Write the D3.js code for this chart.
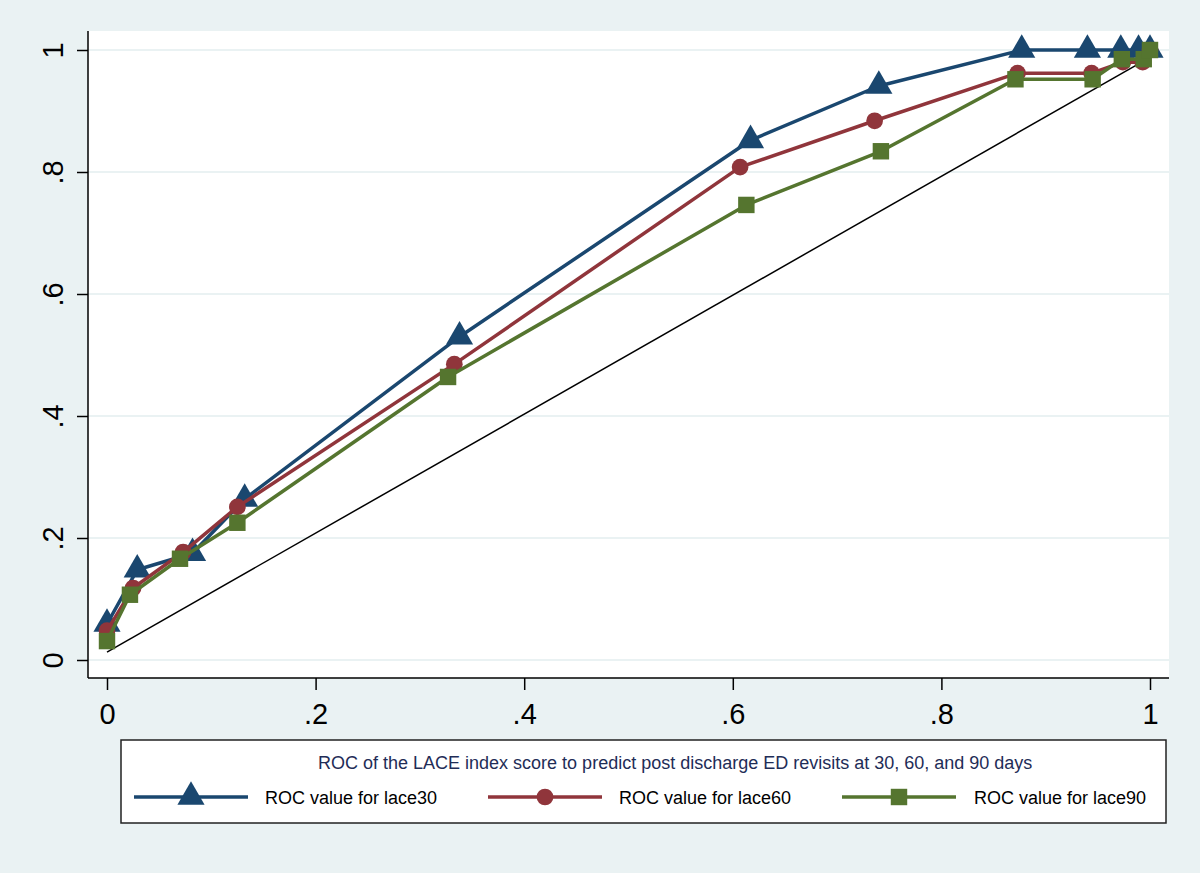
<!DOCTYPE html>
<html>
<head>
<meta charset="utf-8">
<script src="https://cdn.jsdelivr.net/npm/d3@7.9.0/dist/d3.min.js"></script>
<style>
  html, body { margin: 0; padding: 0; background: #eaf2f3; }
  svg { display: block; font-family: "Liberation Sans", Arial, sans-serif; }
</style>
</head>
<body>
<div id="chart"></div>
<script>
// ROC points
const fpr30 = [0, 0.029, 0.082, 0.132, 0.338, 0.617, 0.740, 0.877, 0.940, 0.972, 0.989, 1.0];
const tpr30 = [0.059, 0.148, 0.175, 0.264, 0.530, 0.852, 0.941, 1, 1, 1, 1, 1];

const fpr60 = [0, 0.025, 0.073, 0.125, 0.333, 0.607, 0.736, 0.873, 0.944, 0.974, 0.993, 1];
const tpr60 = [0.048, 0.118, 0.177, 0.251, 0.485, 0.808, 0.884, 0.962, 0.962, 0.980, 0.980, 1];

const fpr90 = [0, 0.022, 0.070, 0.125, 0.327, 0.613, 0.742, 0.871, 0.945, 0.973, 0.994, 1];
const tpr90 = [0.031, 0.107, 0.166, 0.225, 0.464, 0.746, 0.834, 0.952, 0.952, 0.985, 0.985, 1];

// reference line
const refX = [0, 1];
const refY = [0.013, 0.988];

const xTicks = [0, 0.2, 0.4, 0.6, 0.8, 1];
const yTicks = [0, 0.2, 0.4, 0.6, 0.8, 1];

const legendTitle = 'ROC of the LACE index score to predict post discharge ED revisits at 30, 60, and 90 days';
const seriesNames = ['ROC value for lace30', 'ROC value for lace60', 'ROC value for lace90'];

const width = 1200;
const height = 873;

const plot = { left: 88, top: 31, right: 1169, bottom: 678 };

const svg = d3.select('#chart')
    .append('svg')
    .attr('width', width)
    .attr('height', height);

svg.append('rect')
    .attr('width', width)
    .attr('height', height)
    .attr('fill', '#eaf2f3');

svg.append('rect')
    .attr('x', plot.left)
    .attr('y', plot.top)
    .attr('width', plot.right - plot.left)
    .attr('height', plot.bottom - plot.top)
    .attr('fill', '#ffffff');

const xScale = d3.scaleLinear().domain([0, 1]).range([107, 1150]);
const yScale = d3.scaleLinear().domain([0, 1]).range([660, 50]);

const fmt = v => (v === 0 ? '0' : v === 1 ? '1' : String(v).replace('0.', '.'));

// gridlines
svg.append('g')
    .attr('class', 'gridlines')
    .selectAll('line')
    .data(yTicks)
    .enter()
    .append('line')
    .attr('x1', plot.left)
    .attr('x2', plot.right)
    .attr('y1', d => yScale(d))
    .attr('y2', d => yScale(d))
    .attr('stroke', '#eaf2f3')
    .attr('stroke-width', 2);

// axes
const xAxis = svg.append('g')
    .attr('class', 'x-axis')
    .attr('transform', `translate(0, ${plot.bottom})`)
    .call(d3.axisBottom(xScale).tickValues(xTicks).tickFormat(fmt).tickSize(12).tickSizeOuter(0));
xAxis.select('.domain').remove();
xAxis.append('line')
    .attr('x1', plot.left).attr('x2', plot.right)
    .attr('stroke', '#000').attr('stroke-width', 1.5);
xAxis.selectAll('.tick line').attr('stroke', '#000').attr('stroke-width', 1.5);
xAxis.selectAll('.tick text')
    .attr('y', 46)
    .attr('dy', 0)
    .attr('fill', '#000')
    .attr('font-size', '29px');

const yAxis = svg.append('g')
    .attr('class', 'y-axis')
    .attr('transform', `translate(${plot.left}, 0)`)
    .call(d3.axisLeft(yScale).tickValues(yTicks).tickFormat(fmt).tickSize(11).tickSizeOuter(0));
yAxis.select('.domain').remove();
yAxis.append('line')
    .attr('y1', plot.top).attr('y2', plot.bottom)
    .attr('stroke', '#000').attr('stroke-width', 1.5);
yAxis.selectAll('.tick line').attr('stroke', '#000').attr('stroke-width', 1.5);
yAxis.selectAll('.tick text')
    .attr('x', null)
    .attr('dy', 0)
    .attr('text-anchor', 'middle')
    .attr('transform', 'translate(-25, 0) rotate(-90)')
    .attr('fill', '#000')
    .attr('font-size', '29px');

// diagonal reference
svg.append('line')
    .attr('x1', xScale(refX[0])).attr('y1', yScale(refY[0]))
    .attr('x2', xScale(refX[1])).attr('y2', yScale(refY[1]))
    .attr('stroke', '#000')
    .attr('stroke-width', 1.5);

const series = [
    { name: seriesNames[0], x: fpr30, y: tpr30, color: '#1a476f', symbol: d3.symbolTriangle, size: 320 },
    { name: seriesNames[1], x: fpr60, y: tpr60, color: '#90353b', symbol: d3.symbolCircle, size: 220 },
    { name: seriesNames[2], x: fpr90, y: tpr90, color: '#55752f', symbol: d3.symbolSquare, size: 270 },
];

const line = d3.line().x(d => xScale(d[0])).y(d => yScale(d[1]));

series.forEach(s => {
    const pts = s.x.map((v, i) => [v, s.y[i]]);
    const g = svg.append('g').attr('class', 'series');

    g.append('path')
        .datum(pts)
        .attr('d', line)
        .attr('fill', 'none')
        .attr('stroke', s.color)
        .attr('stroke-width', 3.5)
        .attr('stroke-linejoin', 'round');

    g.selectAll('path.mark')
        .data(pts)
        .enter()
        .append('path')
        .attr('class', 'mark')
        .attr('d', d3.symbol().type(s.symbol).size(s.size))
        .attr('transform', d => `translate(${xScale(d[0])}, ${yScale(d[1])})`)
        .attr('fill', s.color);
});

// legend
const legend = svg.append('g').attr('class', 'legend');

legend.append('rect')
    .attr('x', 121)
    .attr('y', 740)
    .attr('width', 1045)
    .attr('height', 83)
    .attr('fill', '#ffffff')
    .attr('stroke', '#222')
    .attr('stroke-width', 1.5);

legend.append('text')
    .attr('x', 318)
    .attr('y', 769)
    .attr('fill', '#1f2d57')
    .attr('font-size', '18px')
    .text(legendTitle);

const keyX = [134, 488, 842];
const textX = [265, 619, 974];

const legendItem = legend.selectAll('.legend-item')
    .data(series)
    .enter()
    .append('g')
    .attr('class', 'legend-item')
    .attr('transform', (d, i) => `translate(${keyX[i]}, 797)`);

legendItem.append('line')
    .attr('x1', 0)
    .attr('x2', 114)
    .attr('stroke', d => d.color)
    .attr('stroke-width', 3.5);

legendItem.append('path')
    .attr('d', d => d3.symbol().type(d.symbol).size(d.size)())
    .attr('transform', 'translate(57, 0)')
    .attr('fill', d => d.color);

legendItem.append('text')
    .attr('x', (d, i) => textX[i] - keyX[i])
    .attr('y', 7)
    .attr('fill', '#000')
    .attr('font-size', '18px')
    .text(d => d.name);
</script>
</body>
</html>
